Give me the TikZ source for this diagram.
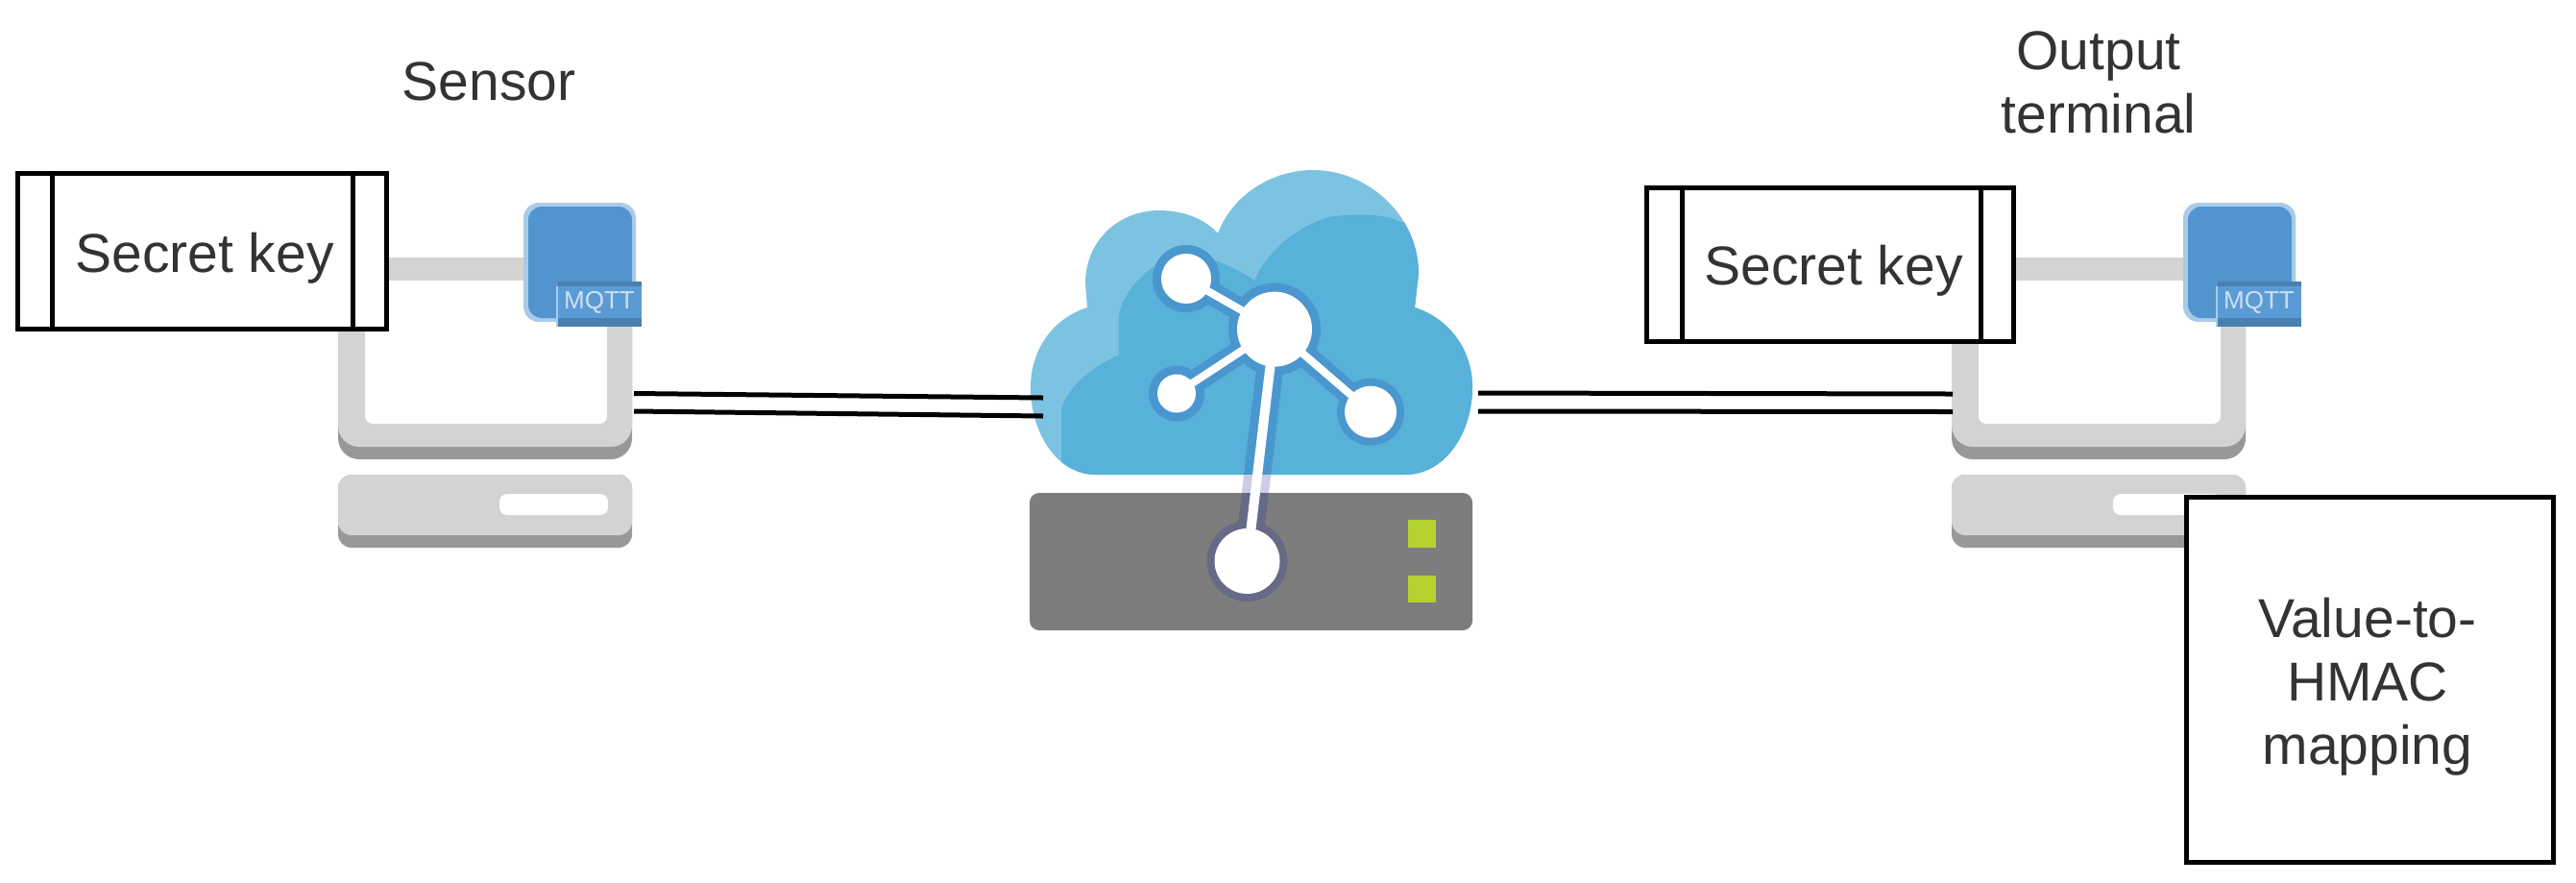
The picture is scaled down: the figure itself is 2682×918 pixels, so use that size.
\documentclass[tikz,border=0pt]{standalone}
\usepackage{fontspec}
\setmainfont{Liberation Sans}
\definecolor{frameL}{HTML}{D2D3D2}
\definecolor{frameD}{HTML}{979998}
\definecolor{chipO}{HTML}{A9CBE8}
\definecolor{chipC}{HTML}{5294CF}
\definecolor{badgeD}{HTML}{4A7FB0}
\definecolor{badgeM}{HTML}{5B9BD5}
\definecolor{cloudL}{HTML}{7CC3E1}
\definecolor{cloudD}{HTML}{57B1D9}
\definecolor{hubB}{HTML}{4A96CE}
\definecolor{hubG}{HTML}{666A85}
\definecolor{hubP}{HTML}{CCCCE8}
\definecolor{srv}{HTML}{7D7D7D}
\definecolor{led}{HTML}{B5D22F}
\definecolor{ink}{HTML}{333333}
\newcommand{\hublinks}[1]{%
  \draw[#1,line width=12pt] (hub) -- (nTL);
  \draw[#1,line width=12pt] (hub) -- (nL);
  \draw[#1,line width=12pt] (hub) -- (nR);
  \draw[#1,line width=14pt] (hub) -- (nB);
}
\newcommand{\cloudpath}{(1141,494) .. controls (1100,494) and (1073,450) .. (1073,403)
  .. controls (1073,365) and (1095,332) .. (1132,320)
  -- (1130,295) .. controls (1130,250) and (1165,219) .. (1207,219)
  .. controls (1232,219) and (1255,228) .. (1268,243)
  .. controls (1282,205) and (1322,177) .. (1367,177)
  .. controls (1425,177) and (1477,225) .. (1477,285)
  -- (1473,320)
  .. controls (1510,332) and (1533,365) .. (1533,403)
  .. controls (1533,450) and (1505,494) .. (1463,494) -- cycle}
\tikzset{
  x=0.5pt,y=-0.5pt,
  lbl/.style={font=\fontsize{28.5}{33}\selectfont,text=ink,inner sep=0pt,align=center},
  boxed/.style={draw=black,line width=2.5pt,fill=white,inner sep=0pt},
  keyline/.style={draw=black,line width=2.5pt},
  wire/.style={draw=black,line width=2.5pt},
  pics/computer/.style={code={
    \fill[frameD,rounded corners=11pt] (0,0) rectangle (306,210);
    \fill[frameL,rounded corners=11pt] (0,0) rectangle (306,197);
    \fill[white,rounded corners=4pt] (28,24) rectangle (280,173);
    \fill[frameD,rounded corners=7pt] (0,226) rectangle (306,302);
    \fill[frameL,rounded corners=7pt] (0,226) rectangle (306,289);
    \fill[white,rounded corners=4pt] (168,246) rectangle (281,268);
  }},
  pics/chip/.style={code={
    \fill[chipO,rounded corners=8pt] (0,0) rectangle (117,124);
    \fill[chipC,rounded corners=7pt] (5,4) rectangle (113,120);
    \fill[chipO] (34,87) rectangle (123,129);
    \fill[badgeD] (36,82) rectangle (123,129);
    \fill[badgeM] (36,87) rectangle (123,120);
    \node[font=\fontsize{13}{14}\selectfont,text=chipO!60!white,inner sep=0pt] at (79,104) {MQTT};
  }}
}
\begin{document}
\begin{tikzpicture}
\useasboundingbox[fill=white] (0,0) rectangle (2682,918);

% computers
\pic at (352,268) {computer};
\pic at (2032,268) {computer};
\pic at (545,211) {chip};
\pic at (2273,211) {chip};

% cloud
\fill[cloudL] \cloudpath;
\begin{scope}
  \clip \cloudpath;
  \fill[cloudD] (1105,500) -- (1105,430) .. controls (1106,410) and (1130,385) .. (1164.6,369.6)
    -- (1164.6,329) .. controls (1170,300) and (1200,270) .. (1237,261.5)
    .. controls (1260,268) and (1290,280) .. (1306,292)
    .. controls (1315,270) and (1340,240) .. (1383,226)
    .. controls (1410,222) and (1440,222) .. (1459,231)
    -- (1540,231) -- (1540,500) -- cycle;
\end{scope}

% server
\fill[srv,rounded corners=5pt] (1072,513) rectangle (1533,656);
\fill[led] (1466,541) rectangle (1495,570);
\fill[led] (1466,599) rectangle (1495,627);

% hub and its links
\coordinate (hub) at (1327,342.6);
\coordinate (nTL) at (1235,290);
\coordinate (nL) at (1225,409.5);
\coordinate (nR) at (1427,428.7);
\coordinate (nB) at (1298.5,584);
\begin{scope}
  \clip (1000,100) rectangle (1600,494);
  \hublinks{hubB}
  \fill[hubB] (hub) circle [radius=48];
  \fill[hubB] (nTL) circle [radius=35];
  \fill[hubB] (nL) circle [radius=29];
  \fill[hubB] (nR) circle [radius=35];
\end{scope}
\begin{scope}
  \clip (1000,494) rectangle (1600,513);
  \hublinks{hubP}
\end{scope}
\begin{scope}
  \clip (1000,513) rectangle (1600,700);
  \hublinks{hubG}
  \fill[hubG] (nB) circle [radius=42];
\end{scope}
\draw[white,line width=4pt] (hub) -- (nTL);
\draw[white,line width=4pt] (hub) -- (nL);
\draw[white,line width=4pt] (hub) -- (nR);
\draw[white,line width=5pt] (hub) -- (nB);
\fill[white] (hub) circle [radius=39];
\fill[white] (nTL) circle [radius=26];
\fill[white] (nL) circle [radius=20];
\fill[white] (nR) circle [radius=27];
\fill[white] (nB) circle [radius=34];

% wires
\coordinate (sensorA) at (660,409.5);
\coordinate (sensorB) at (660,428);
\coordinate (cloudLA) at (1086,414);
\coordinate (cloudLB) at (1086,433);
\coordinate (cloudRA) at (1539,409);
\coordinate (cloudRB) at (1539,428);
\coordinate (termA) at (2033,410);
\coordinate (termB) at (2033,428.5);
\draw[wire] (sensorA) -- (cloudLA);
\draw[wire] (sensorB) -- (cloudLB);
\draw[wire] (cloudRA) -- (termA);
\draw[wire] (cloudRB) -- (termB);

% secret key boxes
\node[boxed,minimum width=192pt,minimum height=81pt] (keyS) at (210.5,261) {};
\draw[keyline] ([xshift=19pt]keyS.north west) -- ([xshift=19pt]keyS.south west);
\draw[keyline] ([xshift=-19pt]keyS.north east) -- ([xshift=-19pt]keyS.south east);
\node[lbl,anchor=base] (keySt) at (213,283) {Secret key};

\node[boxed,minimum width=191pt,minimum height=80pt] (keyT) at (1905.5,275) {};
\draw[keyline] ([xshift=19.5pt]keyT.north west) -- ([xshift=19.5pt]keyT.south west);
\draw[keyline] ([xshift=-18.5pt]keyT.north east) -- ([xshift=-18.5pt]keyT.south east);
\node[lbl,anchor=base] (keyTt) at (1909,296) {Secret key};

% mapping box
\node[boxed,minimum width=191pt,minimum height=190pt] (map) at (2467.5,707) {};
\node[lbl] (mapt) at (2465,715) {Value-to-\\HMAC\\mapping};

% captions
\node[lbl,anchor=base] (sensor) at (509,104) {Sensor};
\node[lbl] (term) at (2185,86) {Output\\terminal};
\end{tikzpicture}
\end{document}
